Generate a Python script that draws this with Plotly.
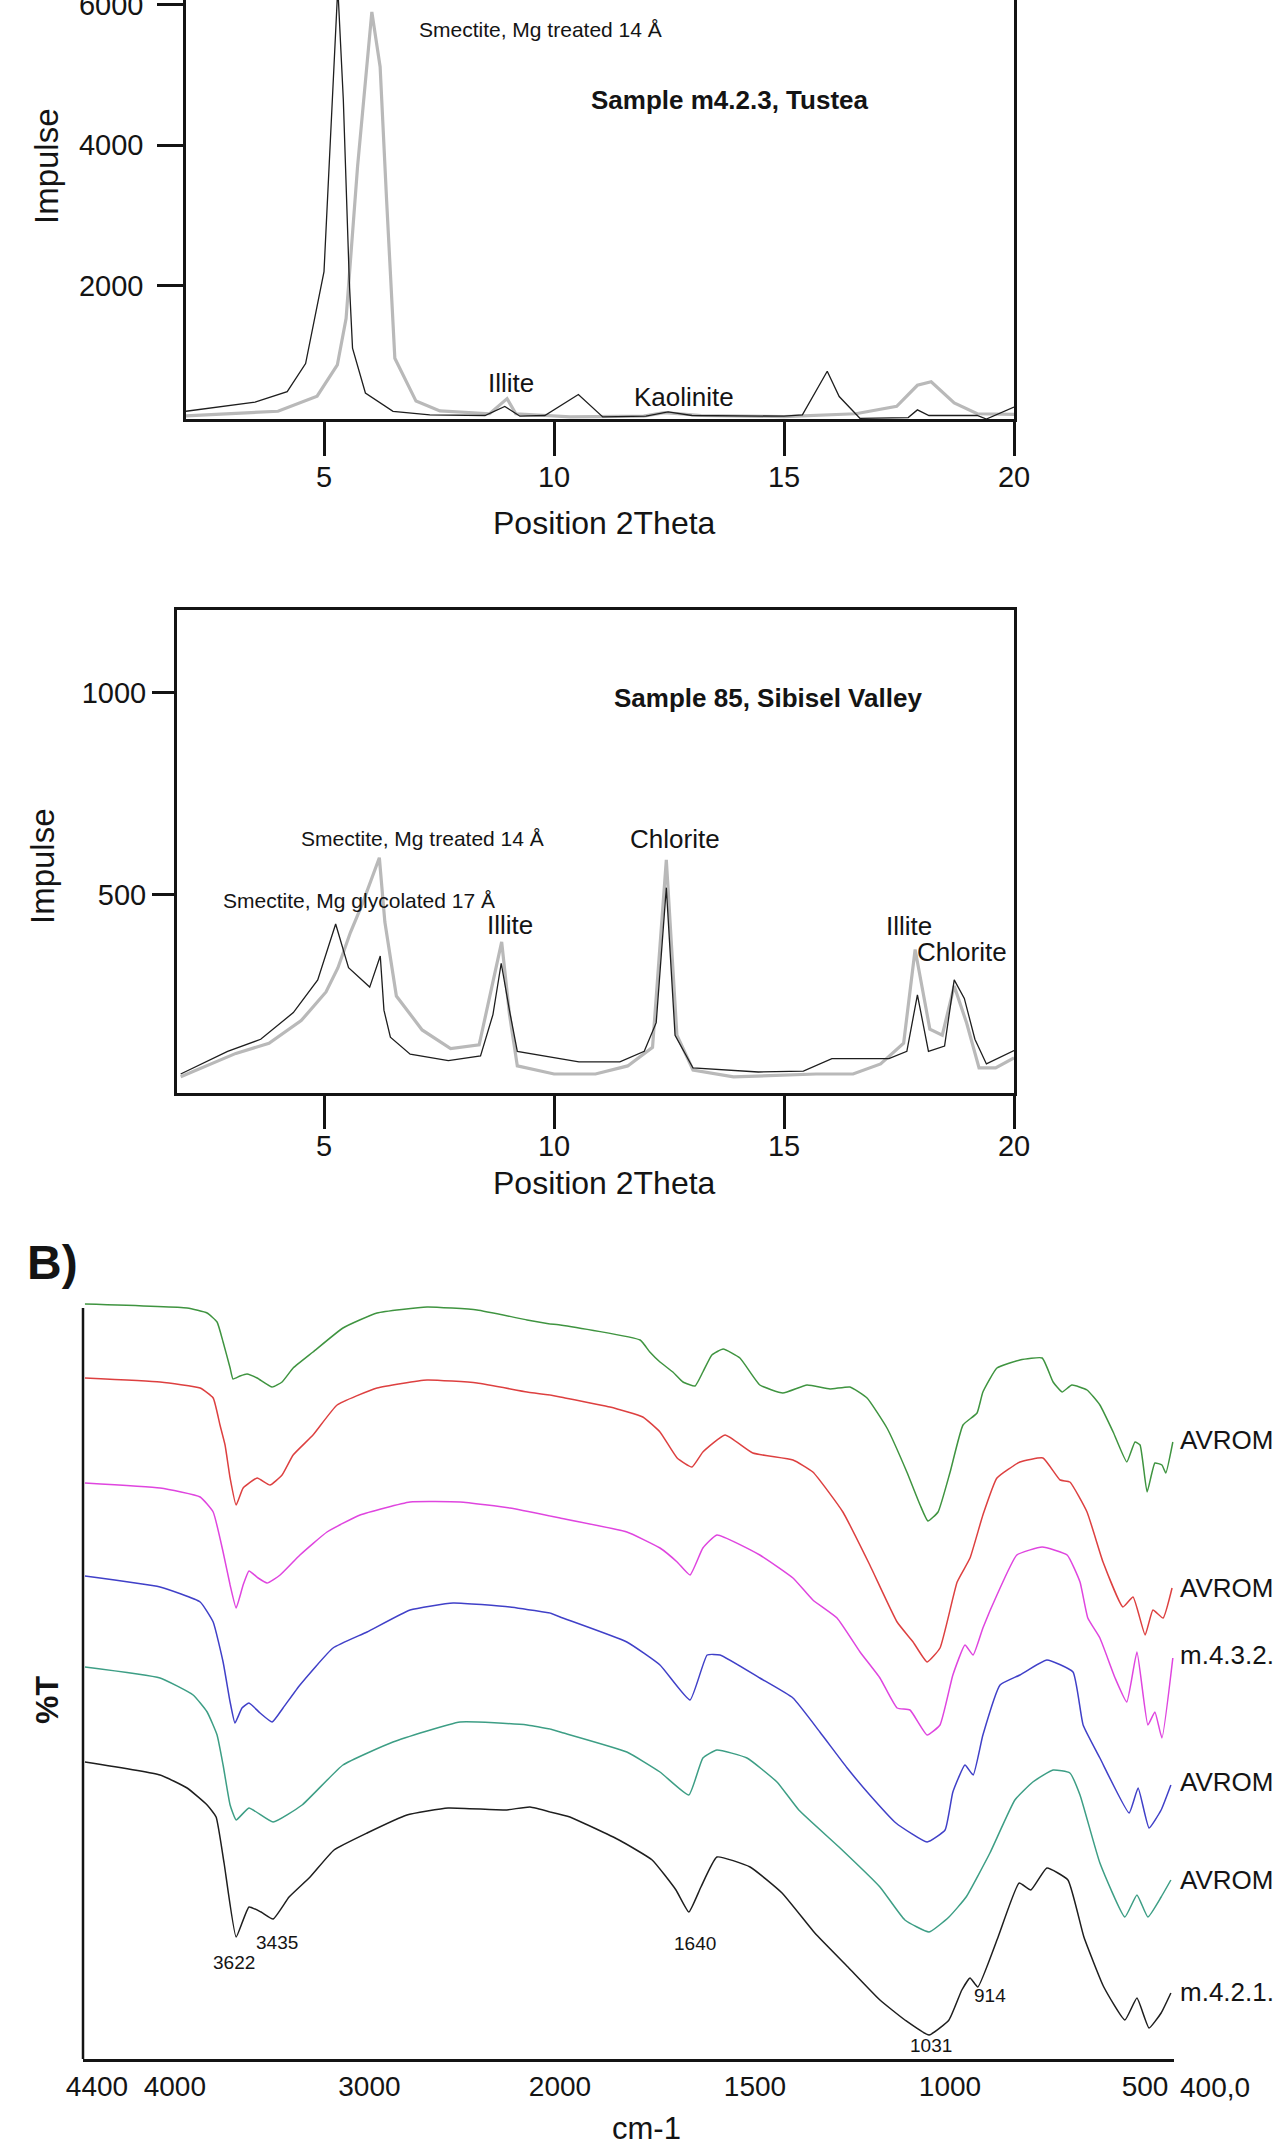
import plotly.graph_objects as go

# ---------------- data ----------------
# Panel A1: Sample m4.2.3, Tustea (Position 2Theta vs Impulse)
black1_x = [2.0, 3.5, 4.2, 4.6, 5.0, 5.15, 5.3, 5.42, 5.55, 5.62, 5.9, 6.5, 7.3, 8.5, 8.93, 9.26, 9.8,
            10.53, 11.06, 12.0, 12.48, 13.0, 15.0, 15.4, 15.94, 16.2, 16.65, 17.7, 17.9, 18.15, 19.2, 19.4, 20.0]
black1_y = [210, 340, 490, 890, 2200, 4180, 6250, 4650, 2060, 1110, 470, 210, 160, 150, 280, 140, 150,
            450, 130, 140, 200, 150, 140, 160, 780, 420, 110, 120, 230, 150, 150, 100, 270]
gray1_x = [2.0, 4.0, 4.85, 5.29, 5.48, 5.73, 6.04, 6.22, 6.36, 6.54, 7.0, 7.52, 8.6, 8.98, 9.17, 10.35,
           11.95, 12.4, 13.2, 15.0, 16.56, 17.45, 17.9, 18.2, 18.7, 19.2, 20.0]
gray1_y = [145, 210, 425, 870, 1530, 3700, 5900, 5120, 3230, 965, 355, 215, 175, 390, 175, 130,
           140, 190, 150, 135, 175, 280, 580, 630, 330, 175, 165]

# Panel A2: Sample 85, Sibisel Valley
black2_x = [1.88, 2.9, 3.62, 4.33, 4.86, 5.25, 5.53, 5.99, 6.22, 6.3, 6.44, 6.87, 7.7, 8.4, 8.67, 8.85,
            9.03, 9.2, 10.54, 11.43, 11.96, 12.22, 12.44, 12.63, 13.02, 14.44, 15.42, 16.04, 17.28,
            17.67, 17.9, 18.14, 18.49, 18.7, 18.92, 19.15, 19.4, 20.0]
black2_y = [57, 113, 143, 209, 290, 428, 320, 272, 349, 215, 148, 106, 90, 102, 204, 331,
            214, 113, 87, 87, 113, 184, 518, 153, 72, 62, 64, 95, 95,
            113, 253, 113, 126, 290, 244, 143, 82, 115]
gray2_x = [1.88, 3.08, 3.8, 4.5, 5.04, 5.3, 5.57, 5.83, 6.2, 6.32, 6.57, 7.13, 7.75, 8.37, 8.86, 9.03,
           9.2, 10.0, 10.9, 11.6, 12.14, 12.44, 12.67, 13.02, 13.9, 15.7, 16.5, 17.1, 17.6, 17.85,
           18.17, 18.44, 18.7, 18.97, 19.24, 19.6, 20.0]
gray2_y = [50, 108, 133, 189, 260, 320, 407, 478, 592, 433, 250, 166, 120, 129, 384, 204,
           77, 57, 57, 77, 123, 587, 153, 67, 50, 57, 57, 82, 133, 365,
           168, 153, 275, 183, 72, 72, 97]

# Panel B: FTIR spectra (wavenumber cm-1, %T offset)
green_wn = [4390, 3865, 3762, 3711, 3680, 3644, 3629, 3593, 3557, 3505, 3428, 3377, 3320, 3218, 3064, 2889,
            2632, 2375, 2118, 2000, 1974, 1769, 1744, 1718, 1685, 1659, 1628, 1608, 1585, 1556, 1513, 1462,
            1403, 1341, 1282, 1231, 1187, 1136, 1085, 1051, 1031, 1005, 974, 941, 905, 890, 854, 795, 738,
            710, 687, 662, 623, 590, 556, 521, 500, 487, 469, 449, 431, 421, 403]
green_t = [75.5, 75.1, 74.6, 73.7, 71.7, 69.1, 68.0, 68.3, 68.5, 68.1, 67.2, 67.7, 69.1, 70.7, 73.1, 74.6,
           75.2, 74.9, 73.9, 73.5, 73.4, 71.9, 70.7, 69.7, 68.7, 67.7, 67.3, 68.7, 70.4, 71.0, 70.1, 67.4,
           66.6, 67.4, 67.0, 67.2, 66.1, 63.1, 58.7, 55.4, 53.8, 54.7, 58.7, 63.4, 64.6, 66.7, 69.1, 69.9, 70.1,
           67.7, 66.7, 67.4, 66.9, 65.4, 62.7, 59.7, 61.7, 61.4, 56.7, 59.6, 59.4, 58.6, 61.7]
red_wn = [4390, 4004, 3798, 3731, 3696, 3670, 3644, 3613, 3577, 3505, 3439, 3377, 3320, 3218, 3094, 2889,
          2632, 2375, 2118, 2000, 1974, 1846, 1762, 1718, 1674, 1636, 1608, 1551, 1480, 1377, 1326, 1249,
          1180, 1110, 1069, 1033, 1000, 956, 923, 890, 854, 795, 736, 692, 667, 623, 582, 531, 505, 474,
          454, 428, 405]
red_t = [68.1, 67.7, 67.1, 66.1, 63.4, 61.4, 58.1, 55.4, 57.1, 58.1, 57.4, 58.4, 60.4, 62.4, 65.4, 67.1,
         67.9, 67.6, 66.7, 66.4, 66.2, 65.2, 64.2, 62.7, 60.1, 59.2, 60.7, 62.4, 60.6, 59.9, 58.7, 54.7,
         49.4, 43.7, 41.7, 39.7, 41.1, 47.7, 50.1, 54.4, 58.1, 59.7, 60.1, 57.9, 57.7, 54.7, 49.7, 45.2, 46.2, 42.4,
         44.9, 44.1, 47.1]
magenta_wn = [4390, 4004, 3798, 3731, 3680, 3644, 3613, 3577, 3547, 3500, 3454, 3387, 3285, 3146, 2976, 2719,
              2462, 2206, 2000, 1974, 1803, 1718, 1674, 1641, 1608, 1572, 1462, 1377, 1326, 1264, 1205, 1154,
              1110, 1077, 1033, 1000, 967, 936, 915, 890, 854, 803, 738, 674, 641, 621, 590, 551, 521, 495,
              467, 449, 431, 403]
magenta_t = [57.6, 57.1, 56.2, 54.7, 50.7, 47.4, 45.1, 47.4, 48.8, 48.1, 47.6, 48.4, 50.4, 52.7, 54.4, 55.7,
             55.7, 55.1, 54.3, 54.1, 52.7, 51.1, 49.7, 48.4, 51.1, 52.4, 50.4, 48.1, 45.9, 44.1, 40.7, 38.1,
             35.1, 34.9, 32.4, 33.4, 38.4, 41.4, 40.4, 43.1, 46.4, 50.4, 51.2, 50.4, 47.7, 44.1, 42.1, 38.1, 35.7, 40.7,
             33.4, 34.7, 32.1, 40.1]
blue_wn = [4390, 4004, 3798, 3731, 3680, 3644, 3619, 3583, 3547, 3490, 3428, 3372, 3285, 3115, 2940, 2719,
           2498, 2206, 2000, 1974, 1803, 1718, 1641, 1597, 1564, 1462, 1377, 1308, 1238, 1180, 1113, 1033,
           987, 967, 936, 915, 890, 846, 795, 726, 659, 633, 590, 515, 492, 464, 433, 408]
blue_t = [48.3, 47.2, 45.7, 43.7, 39.7, 35.7, 33.6, 35.1, 35.6, 34.6, 33.7, 35.1, 37.4, 41.1, 42.7, 44.9,
          45.6, 45.2, 44.6, 44.2, 41.7, 39.4, 35.9, 40.4, 40.4, 38.1, 36.1, 32.7, 29.1, 26.4, 23.6, 21.7,
          22.9, 26.7, 29.4, 28.4, 32.4, 37.4, 38.4, 39.9, 38.7, 33.4, 30.1, 24.6, 27.1, 23.1, 24.9, 27.4]
teal_wn = [4390, 4004, 3834, 3762, 3711, 3680, 3644, 3613, 3547, 3423, 3274, 3064, 2807, 2462, 2118, 2000,
           1974, 1803, 1718, 1644, 1608, 1572, 1495, 1418, 1362, 1259, 1154, 1090, 1028, 977, 933, 872,
           808, 762, 710, 667, 641, 590, 526, 495, 467, 433, 408]
teal_t = [39.2, 38.1, 36.4, 34.7, 32.4, 29.4, 25.4, 23.9, 25.1, 23.7, 25.4, 29.4, 31.7, 33.7, 33.4, 33.0,
          32.7, 30.7, 28.7, 26.4, 30.1, 30.9, 30.1, 27.7, 24.9, 21.2, 17.2, 13.9, 12.7, 14.2, 16.2, 20.6,
          25.9, 27.7, 28.9, 28.6, 26.4, 19.6, 14.2, 16.4, 14.2, 16.2, 17.9]
black_wn = [4390, 4004, 3865, 3762, 3716, 3675, 3613, 3547, 3485, 3423, 3341, 3233, 3110, 2940, 2735, 2524,
            2231, 2103, 2000, 1949, 1823, 1738, 1677, 1644, 1613, 1572, 1487, 1405, 1321, 1236, 1154, 1090,
            1028, 977, 944, 923, 903, 851, 797, 767, 726, 672, 631, 580, 526, 495, 464, 433, 408]
black_t = [29.7, 28.4, 27.1, 25.4, 24.2, 19.6, 12.2, 15.2, 14.7, 14.0, 16.2, 18.2, 20.9, 22.6, 24.4, 25.1,
           24.9, 25.2, 24.7, 24.2, 21.9, 19.9, 16.9, 14.7, 17.2, 20.2, 19.2, 16.6, 12.6, 9.2, 5.9, 3.9,
           2.4, 3.9, 6.9, 8.1, 7.2, 12.2, 17.6, 16.9, 19.1, 17.9, 12.2, 7.2, 3.9, 6.1, 3.1, 4.6, 6.6]

spectra_names = ["AVROM", "AVROM", "m.4.3.2.", "AVROM", "AVROM", "m.4.2.1."]
peak_labels = ["3622", "3435", "1640", "914", "1031"]
peak_wn = [3622, 3405, 1628, 872, 1023]
peak_t = [9.7, 11.7, 11.6, 6.4, 1.4]

xrd_ticks = [5, 10, 15, 20]
ir_ticks_hi = [4400, 4000, 3000]
ir_ticks_lo = [2000, 1500, 1000, 500]

# ---------------- figure ----------------
W, H = 1278, 2145
FONT = "Liberation Sans, Arial, Helvetica, sans-serif"
INK = "#141414"


def px(x):
    return x / W


def py(y):
    return 1 - y / H


fig = go.Figure()

for xs, ys, ax, ay in [(gray1_x, gray1_y, "x", "y"), (gray2_x, gray2_y, "x2", "y2")]:
    fig.add_trace(go.Scatter(x=xs, y=ys, xaxis=ax, yaxis=ay, mode="lines",
                             line=dict(color="#b9b9b9", width=3.2), hoverinfo="skip"))
for xs, ys, ax, ay in [(black1_x, black1_y, "x", "y"), (black2_x, black2_y, "x2", "y2")]:
    fig.add_trace(go.Scatter(x=xs, y=ys, xaxis=ax, yaxis=ay, mode="lines",
                             line=dict(color="#1e1e1e", width=1.3), hoverinfo="skip"))

spectra = [(green_wn, green_t, "#3f9440"), (red_wn, red_t, "#dd4040"), (magenta_wn, magenta_t, "#df45df"),
           (blue_wn, blue_t, "#4040c8"), (teal_wn, teal_t, "#3d9e85"), (black_wn, black_t, "#1e1e1e")]
for wn, t, col in spectra:
    hi = [(w, v) for w, v in zip(wn, t) if w >= 2000]
    lo = [(w, v) for w, v in zip(wn, t) if w <= 2000]
    for part, ax in [(hi, "x3"), (lo, "x4")]:
        fig.add_trace(go.Scatter(x=[a for a, _ in part], y=[b for _, b in part], xaxis=ax, yaxis="y3",
                                 mode="lines", line=dict(color=col, width=1.5, shape="spline", smoothing=0.4),
                                 hoverinfo="skip"))

common = dict(showgrid=False, zeroline=False, linecolor=INK, tickcolor=INK, automargin=False,
              ticklabeloverflow="allow", tickfont=dict(family=FONT, size=29, color=INK))
ir_common = {**common, "tickfont": dict(family=FONT, size=28, color=INK)}

layout = dict(
    template="none",
    width=W, height=H, margin=dict(l=0, r=0, t=0, b=0, pad=0, autoexpand=False),
    paper_bgcolor="white", plot_bgcolor="white", showlegend=False,
    font=dict(family=FONT, color=INK),
    xaxis=dict(domain=[px(186), px(1014)], range=[2, 20], anchor="y", tickvals=xrd_ticks,
               ticks="outside", ticklen=34, tickwidth=2.5, showline=True, linewidth=3,
               ticklabelstandoff=-4, **common),
    yaxis=dict(domain=[py(419), 1], range=[100, 6070], anchor="x", tickvals=[2000, 4000, 6000],
               ticks="outside", ticklen=26, tickwidth=2.5, showline=True, linewidth=2.5, mirror=True,
               ticklabelstandoff=8, **common),
    xaxis2=dict(domain=[px(177), px(1014)], range=[1.8, 20], anchor="y2", tickvals=xrd_ticks,
                ticks="outside", ticklen=33, tickwidth=2.5, showline=True, linewidth=3, mirror=True,
                ticklabelstandoff=-8, **common),
    yaxis2=dict(domain=[py(1093), py(610)], range=[10, 1205], anchor="x2", tickvals=[500, 1000],
                ticks="outside", ticklen=22, tickwidth=2.5, showline=True, linewidth=3, mirror=True,
                ticklabelstandoff=0, **common),
    xaxis3=dict(domain=[px(83), px(550)], range=[4400, 2000], anchor="y3", tickvals=ir_ticks_hi,
                ticks="", showline=True, linewidth=3, ticklabelshift=-14, ticklabelstandoff=0,
                **ir_common),
    xaxis4=dict(domain=[px(550), px(1174)], range=[2000, 400], anchor="y3", tickvals=ir_ticks_lo,
                ticks="", showline=True, linewidth=3, ticklabelshift=-10, ticklabelstandoff=0,
                **ir_common),
    yaxis3=dict(domain=[py(2059), py(1299)], range=[0, 76], anchor="x3", visible=False,
                automargin=False),
    shapes=[dict(type="line", xref="paper", yref="paper", x0=px(83), x1=px(83), y0=py(2059), y1=py(1308),
                 line=dict(color=INK, width=2.5))],
)

ann = []


def note(text, x, y, size, bold=False, xanchor="center", angle=0, **kw):
    d = dict(text=f"<b>{text}</b>" if bold else text, x=px(x), y=py(y), xref="paper", yref="paper",
             xanchor=xanchor, yanchor="middle", showarrow=False, textangle=angle,
             font=dict(family=FONT, size=size, color=INK))
    d.update(kw)
    ann.append(d)


# Panel A1
note("Smectite, Mg treated 14 Å", 540, 30, 21)
note("Sample m4.2.3, Tustea", 730, 100, 26, bold=True)
note("Illite", 511, 383, 26)
note("Kaolinite", 684, 397, 26)
note("Impulse", 47, 166, 33, angle=-90)
note("Position 2Theta", 604, 523, 32)

# Panel A2
note("Sample 85, Sibisel Valley", 768, 698, 26, bold=True)
note("Smectite, Mg treated 14 Å", 422, 838, 21)
note("Chlorite", 675, 839, 26)
note("Smectite, Mg glycolated 17 Å", 359, 901, 21)
note("Illite", 510, 925, 26)
note("Illite", 909, 926, 26)
note("Chlorite", 962, 952, 26)
note("Impulse", 43, 866, 33, angle=-90)
note("Position 2Theta", 604, 1183, 32)

# Panel B
note("B)", 52, 1262, 48, bold=True)
note("%T", 47, 1700, 32, bold=True, angle=-90)
note("cm-1", 646, 2128, 31)
label_y = [1440, 1588, 1655, 1782, 1880, 1992]
for name, yy in zip(spectra_names, label_y):
    note(name, 1178, yy, 26, xanchor="left")

for lab, w, v in zip(peak_labels, peak_wn, peak_t):
    axis = "x3" if w >= 2000 else "x4"
    ann.append(dict(text=lab, x=w, y=v, xref=axis, yref="y3", showarrow=False,
                    xanchor="center", yanchor="middle", font=dict(family=FONT, size=19, color=INK)))

ann.append(dict(text="400,0", x=400, y=py(2087), xref="x4", yref="paper", showarrow=False,
                xanchor="left", yanchor="middle", xshift=4, font=dict(family=FONT, size=28, color=INK)))

layout["annotations"] = ann
fig.update_layout(**layout)
fig.write_html("out.html")
